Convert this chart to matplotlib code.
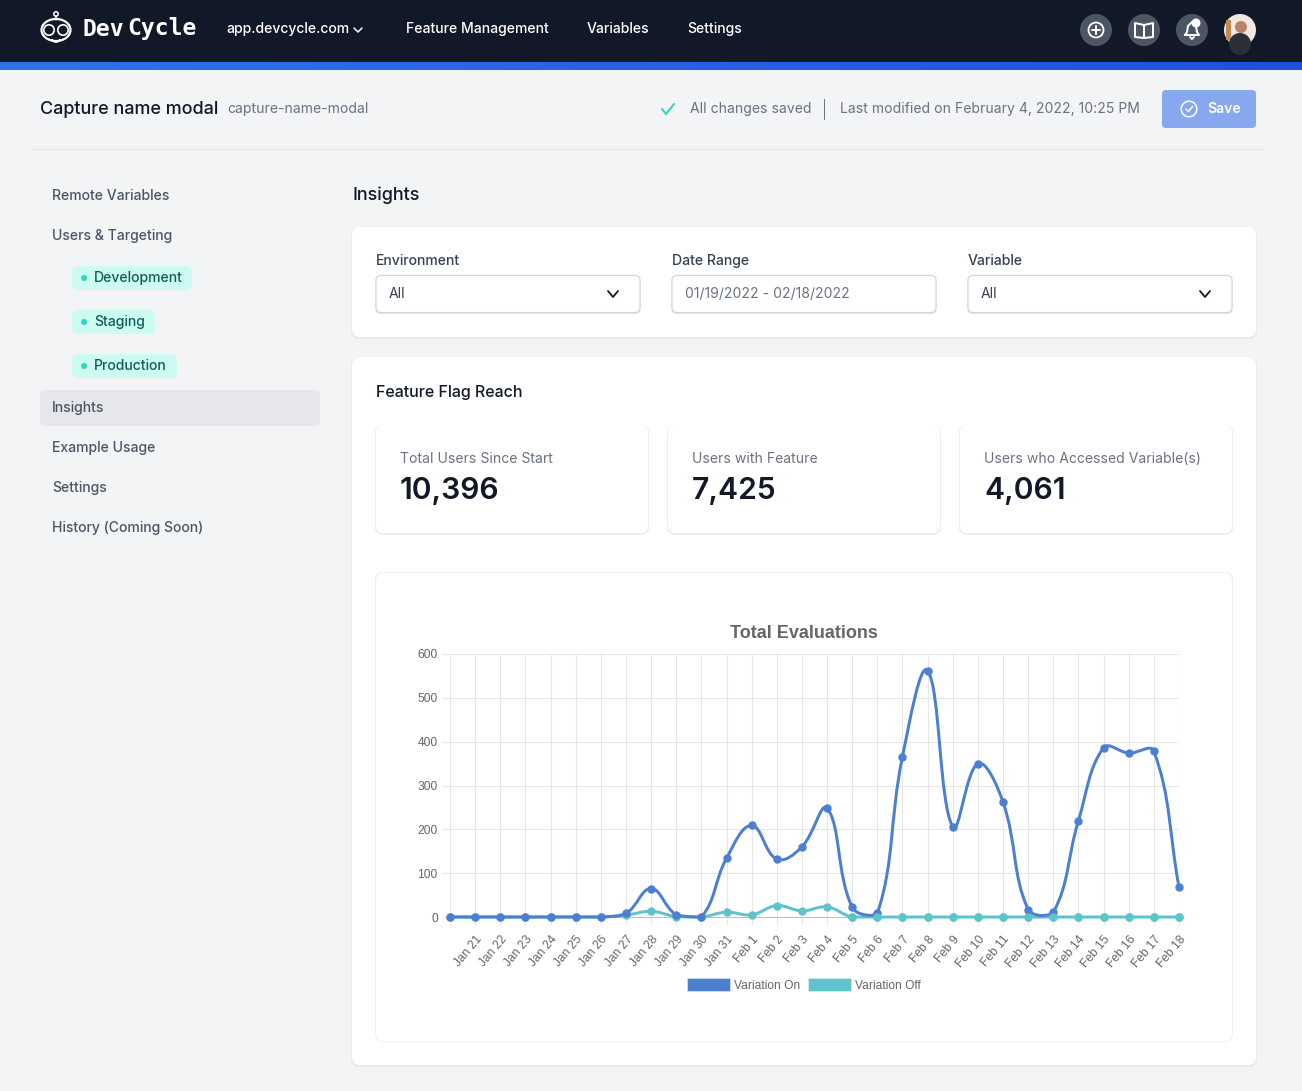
import numpy as np
import matplotlib
matplotlib.use("Agg")
import matplotlib.pyplot as plt
from matplotlib.patches import FancyBboxPatch, Circle, Rectangle, PathPatch, Patch, Arc
from matplotlib.path import Path

W, H = 1302, 1091

dates = ["", "Jan 21", "Jan 22", "Jan 23", "Jan 24", "Jan 25", "Jan 26", "Jan 27", "Jan 28", "Jan 29",
         "Jan 30", "Jan 31", "Feb 1", "Feb 2", "Feb 3", "Feb 4", "Feb 5", "Feb 6", "Feb 7", "Feb 8",
         "Feb 9", "Feb 10", "Feb 11", "Feb 12", "Feb 13", "Feb 14", "Feb 15", "Feb 16", "Feb 17", "Feb 18"]
variation_on = [0, 0, 0, 0, 0, 0, 0, 8, 65, 5, 0, 134, 209, 132, 160, 248, 22, 8, 366, 562,
                205, 350, 262, 17, 11, 220, 386, 374, 378, 68]
variation_off = [0, 0, 0, 0, 0, 0, 0, 4, 13, 1, 0, 11, 5, 26, 14, 23, 0, 0, 0, 0,
                 0, 0, 0, 0, 0, 0, 0, 0, 0, 0]
y_ticks = [0, 100, 200, 300, 400, 500, 600]
stat_labels = ["Total Users Since Start", "Users with Feature", "Users who Accessed Variable(s)"]
stat_values = ["10,396", "7,425", "4,061"]
nav_items = ["Feature Management", "Variables", "Settings"]
side_top = ["Remote Variables", "Users & Targeting"]
side_envs = ["Development", "Staging", "Production"]
side_bottom = ["Insights", "Example Usage", "Settings", "History (Coming Soon)"]

UI = "Inter"
CH = "Liberation Sans"
px = 0.72  # px to pt at dpi 100

fig = plt.figure(figsize=(W / 100, H / 100), dpi=100, facecolor="#f3f4f6")
ui = fig.add_axes([0, 0, 1, 1])
ui.set_axis_off()


def rrect(x0, y0, x1, y1, r, fc, ec="none", lw=0, z=1, alpha=None):
    p = FancyBboxPatch((x0 + r, y0 + r), x1 - x0 - 2 * r, y1 - y0 - 2 * r,
                       boxstyle=f"round,pad={r},rounding_size={r}", fc=fc, ec=ec, lw=lw, zorder=z, alpha=alpha)
    ui.add_patch(p)


def label(x, y, s, size=14, color="#4b5563", weight="medium", ha="left", family=UI, z=5):
    ui.text(x, y, s, fontsize=size * px, color=color, fontweight=weight, ha=ha, va="center",
            family=family, zorder=z)


def polyline(xs, ys, color, lw=1.5, z=6):
    ui.plot(xs, ys, color=color, lw=lw * px, solid_capstyle="round", solid_joinstyle="round", zorder=z)


def card(x0, y0, x1, y1, r=8, z=1):
    rrect(x0 - 1, y0, x1 + 1, y1 + 2, r, "#e8eaee", z=z)
    rrect(x0, y0, x1, y1, r, "#ffffff", z=z + 0.1)


# header
ui.add_patch(Rectangle((0, 0), W, 62, fc="#111827", ec="none", zorder=1))
grad = np.linspace(0, 1, 256)[None, :, None]
c0, c1 = np.array([0x30, 0x72, 0xEC]) / 255, np.array([0x1F, 0x50, 0xDC]) / 255
ui.imshow(c0 + (c1 - c0) * grad, extent=(0, W, 70, 62), aspect="auto", zorder=1)

# logo
ui.add_patch(Arc((56, 30), 29, 22, fc="none", ec="white", lw=1.6, zorder=6))
ui.add_patch(Circle((49, 30), 5.2, fc="none", ec="white", lw=1.2, zorder=6))
ui.add_patch(Circle((63, 30), 5.2, fc="none", ec="white", lw=1.2, zorder=6))
ui.add_patch(Circle((56, 14), 2.2, fc="none", ec="white", lw=1.1, zorder=6))
polyline([56, 56], [16, 20], "white", 1.5)
ui.add_patch(Arc((56, 39), 8, 6, theta1=0, theta2=180, ec="white", lw=1.2, zorder=6))
label(82, 29, "Dev", 23, "white", "bold", family="DejaVu Sans Mono")
label(127, 29, "Cycle", 23, "white", "bold", family="DejaVu Sans Mono")

label(226, 29, "app.devcycle.com", 14, "white")
polyline([354, 358, 362], [28, 32, 28], "white")
for x, s in zip([406, 587, 687], nav_items):
    label(x, 29, s, 14, "white")

# header icons
for x in [1096, 1144, 1192]:
    ui.add_patch(Circle((x, 30), 16, fc="#4b5563", ec="none", zorder=3))
ui.add_patch(Circle((1096, 30), 7.5, fc="none", ec="white", lw=1.3, zorder=6))
polyline([1092, 1100], [30, 30], "white", 2)
polyline([1096, 1096], [26, 34], "white", 2)
polyline([1144, 1135, 1135, 1144, 1153, 1153, 1144, 1144], [25, 23, 37, 38, 37, 23, 25, 38], "white", 2)
polyline([1185, 1187, 1188, 1192, 1196, 1197, 1199, 1185], [35, 32, 26, 22, 26, 32, 35, 35], "white", 2)
polyline([1190, 1192, 1194], [37, 39, 37], "white", 2)
ui.add_patch(Circle((1196, 23), 4.5, fc="white", ec="none", zorder=7))
# avatar
ui.add_patch(Circle((1240, 30), 16, fc="#efe9e2", ec="none", zorder=3))
ui.add_patch(Circle((1240, 44), 11, fc="#2b3038", ec="none", zorder=4))
ui.add_patch(Circle((1241, 27), 6, fc="#b98468", ec="none", zorder=5))
ui.add_patch(Rectangle((1226, 20), 5, 20, fc="#c28a4c", ec="none", zorder=3.5))

# page title row
label(40, 109, "Capture name modal", 18, "#111827")
label(227, 109, "capture-name-modal", 14, "#6b7280", "normal")
polyline([662, 666, 674], [109, 114, 104], "#2dd4bf", 2)
label(690, 109, "All changes saved", 14, "#6b7280", "normal")
polyline([823.5, 823.5], [99, 119], "#6b7280", 1)
label(840, 109, "Last modified on February 4, 2022, 10:25 PM", 14, "#6b7280", "normal")
rrect(1162, 90, 1256, 128, 4, "#87a7ef")
ui.add_patch(Circle((1189, 109), 7.8, fc="none", ec="white", lw=1.1, zorder=6))
polyline([1186, 1188.5, 1192.5], [109, 111.5, 106.5], "white", 1.5)
label(1207, 109, "Save", 14, "white", "semibold")
ui.plot([32, 1264], [148.5, 148.5], color="#e5e7eb", lw=0.8, zorder=1)

# sidebar
for y, s in zip([196, 236], side_top):
    label(52, y, s)
for (x1, y), s in zip([(192, 278), (155, 322), (177, 366)], side_envs):
    rrect(72, y - 12, x1, y + 12, 6, "#ccfbf1")
    ui.add_patch(Circle((84, y), 3, fc="#2dd4bf", ec="none", zorder=5))
    label(94, y, s, 14, "#115e59")
rrect(40, 390, 320, 426, 6, "#e5e7eb")
for y, s in zip([408, 448, 488, 528], side_bottom):
    label(52, y, s)

# main
label(352, 195, "Insights", 18, "#111827")
card(352, 227, 1256, 337)
for x, s in zip([376, 672, 968], ["Environment", "Date Range", "Variable"]):
    label(x, 261, s, 14, "#374151")
for x in [376, 672, 968]:
    rrect(x - 0.5, 276, x + 264.5, 314, 5, "#e5e7eb", z=1.5)
    rrect(x, 275.5, x + 264, 312.5, 5, "#ffffff", ec="#d1d5db", lw=0.8, z=2)
label(389, 294, "All", 14, "#374151", "normal")
label(685, 294, "01/19/2022 - 02/18/2022", 14, "#6b7280", "normal")
label(981, 294, "All", 14, "#374151", "normal")
for x in [613, 1205]:
    polyline([x - 5, x, x + 5], [291, 297, 291], "#111827", 1.8)

card(352, 357, 1256, 1065)
label(376, 393, "Feature Flag Reach", 16, "#111827")
for x0, s, v in zip([376, 668, 960], stat_labels, stat_values):
    rrect(x0 - 1, 425, x0 + 273, 535, 8, "#eceef1", z=2)
    rrect(x0, 425, x0 + 272, 533, 8, "#ffffff", z=2.1)
    label(x0 + 24, 459, s, 14, "#6b7280", "normal")
    label(x0 + 24, 491, v, 30, "#111827", "semibold")
rrect(375, 572, 1233, 1042, 8, "#eff0f3", z=2)
rrect(376, 573, 1232, 1041, 8, "#ffffff", z=2.1)
ui.set_xlim(0, W)
ui.set_ylim(H, 0)
ui.set_zorder(0)

# chart
L, R, T, B = 450, 1179, 654, 917
ax = fig.add_axes([L / W, 1 - B / H, (R - L) / W, (B - T) / H])
ax.set_zorder(1)
ax.patch.set_alpha(0)
ax.set_xlim(0, len(dates) - 1)
ax.set_ylim(0, 600)
x = np.arange(len(dates))
ax.set_xticks(x)
ax.set_xticklabels(dates, rotation=50, ha="right", rotation_mode="anchor", fontsize=12 * px,
                   family=CH, color="#666666")
ax.set_yticks(y_ticks)
ax.set_yticklabels([str(v) for v in y_ticks], fontsize=12 * px, family=CH, color="#666666")
grid_c = "#e6e6e6"
ax.grid(True, color=grid_c, lw=0.75)
ax.set_axisbelow(True)
ax.tick_params(axis="both", length=8 * px, width=0.75, color=grid_c, pad=3)
ax.tick_params(axis="x", pad=6)
for s in ["top", "right"]:
    ax.spines[s].set_visible(False)
ax.spines["left"].set_color(grid_c)
ax.spines["left"].set_linewidth(0.75)
ax.spines["bottom"].set_color("#bfbfbf")
ax.spines["bottom"].set_linewidth(0.75)


def spline_path(xs, ys, tension=0.4):
    """Chart.js style bezier through the points, computed in pixel space."""
    pts = ax.transData.transform(np.column_stack([xs, ys]))
    n = len(pts)
    box = ax.transData.transform([(xs[0], 0), (xs[-1], 600)])
    verts = [pts[0]]
    codes = [Path.MOVETO]
    cp_next = []
    cp_prev = []
    for i in range(n):
        cur = pts[i]
        prev = pts[max(i - 1, 0)]
        nxt = pts[min(i + 1, n - 1)]
        d01 = np.hypot(*(cur - prev))
        d12 = np.hypot(*(nxt - cur))
        tot = d01 + d12
        s01 = d01 / tot if tot else 0
        s12 = d12 / tot if tot else 0
        cp_prev.append(cur - tension * s01 * (nxt - prev))
        cp_next.append(cur + tension * s12 * (nxt - prev))
    for i in range(n - 1):
        a = np.clip(cp_next[i], box[0], box[1])
        b = np.clip(cp_prev[i + 1], box[0], box[1])
        verts += [a, b, pts[i + 1]]
        codes += [Path.CURVE4] * 3
    return Path(ax.transData.inverted().transform(np.array(verts)), codes)


for vals, col, z, name in [(variation_off, "#5fc4ca", 3, "Variation Off"), (variation_on, "#4d7fd1", 4, "Variation On")]:
    ax.add_patch(PathPatch(spline_path(x, vals), fc="none", ec=col, lw=3 * px, zorder=z, clip_on=False,
                           capstyle="round", joinstyle="round"))
    ax.plot(x, vals, ls="none", marker="o", ms=7 * px, color=col, mec=col, clip_on=False, zorder=z + 0.1, label=name)
# variation-off markers sit over the flat tail of the chart
ax.plot(x[16:], variation_off[16:], ls="none", marker="o", ms=7 * px, color="#5fc4ca", clip_on=False, zorder=5)

fig.text(804 / W, 1 - 634 / H, "Total Evaluations", fontsize=18 * px, fontweight="bold", family=CH,
         color="#666666", ha="center", va="center")

handles = [Patch(fc="#4d7fd1", ec="#d6e1f4", lw=0.5, label="Variation On"),
           Patch(fc="#5fc4ca", ec="#d6eff0", lw=0.5, label="Variation Off")]
leg = fig.legend(handles=handles, loc="center", bbox_to_anchor=(803.5 / W, 1 - 985 / H), ncol=2, frameon=False,
                 prop={"family": CH, "size": 12 * px}, handlelength=43 / 12, handleheight=15 / 12,
                 handletextpad=4 / 12, columnspacing=8 / 12, borderpad=0, borderaxespad=0, labelcolor="#666666")

fig.savefig("out.png", dpi=100, facecolor=fig.get_facecolor())
